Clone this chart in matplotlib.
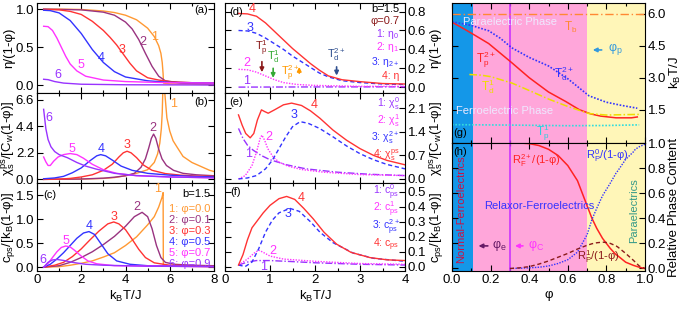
import matplotlib
matplotlib.use('Agg')
import matplotlib.pyplot as plt

plt.rcParams['font.family'] = ['Liberation Sans', 'DejaVu Sans']
plt.rcParams['mathtext.fontset'] = 'custom'
plt.rcParams['mathtext.rm'] = 'Liberation Sans'
plt.rcParams['mathtext.it'] = 'Liberation Sans'
plt.rcParams['mathtext.bf'] = 'Liberation Sans:bold'

# ---------------- left column: six concentrations ----------------
phi_list = [0.0, 0.1, 0.3, 0.5, 0.7, 0.9]
left_colors = ['#FF9933', '#993380', '#FF3333', '#3333FF', '#FF33FF', '#9933FF']

# (a) order parameter
a_T = [
    [0.3, 1, 2, 3, 3.5, 4, 4.5, 5, 5.3, 5.5, 5.6, 5.66, 5.7, 5.72, 6, 8],
    [0.3, 2, 3, 3.5, 4, 4.3, 4.6, 4.9, 5.2, 5.5, 5.8, 6.5, 8],
    [0.3, 1, 1.5, 2, 2.5, 3, 3.3, 3.6, 3.9, 4.2, 4.5, 5, 5.5, 6, 7, 8],
    [0.3, 0.6, 1, 1.5, 2, 2.5, 3, 3.5, 4, 5, 6, 8],
    [0.3, 0.5, 0.7, 0.9, 1.1, 1.3, 1.5, 1.8, 2.2, 3, 4, 6, 8],
    [0.3, 0.5, 0.8, 1.2, 2, 4, 8],
]
a_eta = [
    [1.0, 1.0, 0.995, 0.975, 0.955, 0.92, 0.86, 0.75, 0.64, 0.52, 0.42, 0.3, 0.15, 0.03, 0.02, 0.01],
    [1.0, 0.99, 0.96, 0.92, 0.83, 0.74, 0.6, 0.42, 0.25, 0.12, 0.06, 0.03, 0.02],
    [0.995, 0.99, 0.97, 0.93, 0.84, 0.72, 0.63, 0.53, 0.41, 0.29, 0.19, 0.1, 0.07, 0.05, 0.035, 0.03],
    [0.985, 0.98, 0.95, 0.85, 0.68, 0.47, 0.3, 0.18, 0.11, 0.06, 0.04, 0.03],
    [0.775, 0.77, 0.72, 0.62, 0.5, 0.38, 0.28, 0.19, 0.12, 0.07, 0.05, 0.035, 0.03],
    [0.08, 0.075, 0.05, 0.03, 0.015, 0.008, 0.005],
]

# (b) susceptibility
b_T = [
    [0.3, 2, 3, 3.5, 4, 4.5, 5, 5.3, 5.45, 5.55, 5.62, 5.66, 5.69, 5.76, 5.87, 6.0, 6.15, 6.32, 6.6, 7, 7.37, 7.8, 8],
    [0.3, 2, 3, 3.5, 4, 4.4, 4.7, 4.9, 5.05, 5.17, 5.27, 5.37, 5.5, 5.65, 5.85, 6.17, 6.6, 7.2, 8],
    [0.3, 1, 1.5, 2, 2.5, 3, 3.4, 3.7, 3.9, 4.07, 4.25, 4.5, 4.8, 5.2, 5.8, 6.5, 7.2, 8],
    [0.3, 0.8, 1.2, 1.6, 2.0, 2.4, 2.7, 2.88, 3.1, 3.4, 3.8, 4.3, 5, 6, 7, 8],
    [0.3, 0.4, 0.5, 0.6, 0.75, 0.95, 1.2, 1.5, 1.8, 2.1, 2.5, 3.0, 3.6, 4.5, 6, 8],
    [0.3, 0.35, 0.4, 0.5, 0.63, 0.8, 1.0, 1.38, 1.8, 2.2, 2.66, 3.5, 4.46, 6, 8],
]
b_chi = [
    [0.0, 0.02, 0.08, 0.15, 0.3, 0.5, 0.8, 1.4, 2.1, 3.0, 4.2, 5.5, 7.5, 7.5, 5.1, 4.0, 3.2, 2.7, 1.9, 1.4, 1.1, 0.75, 0.65],
    [0.0, 0.03, 0.1, 0.18, 0.3, 0.5, 1.0, 1.7, 2.6, 3.4, 3.75, 3.4, 2.5, 1.7, 1.15, 0.75, 0.5, 0.38, 0.3],
    [0.0, 0.02, 0.08, 0.2, 0.38, 0.75, 1.25, 1.85, 2.2, 2.33, 2.2, 1.8, 1.2, 0.75, 0.48, 0.35, 0.28, 0.24],
    [0.05, 0.12, 0.25, 0.55, 0.95, 1.55, 1.95, 2.05, 1.95, 1.6, 1.1, 0.75, 0.5, 0.35, 0.25, 0.2],
    [1.85, 1.45, 1.15, 1.15, 1.5, 1.85, 2.05, 2.14, 2.05, 1.75, 1.25, 0.8, 0.5, 0.3, 0.2, 0.13],
    [5.8, 5.0, 4.2, 3.3, 2.7, 2.3, 2.05, 1.79, 1.4, 1.1, 0.86, 0.5, 0.32, 0.2, 0.13],
]

# (c) specific heat
c_T = [
    [0.3, 1, 1.5, 2, 2.5, 3, 3.5, 4, 4.5, 5, 5.3, 5.5, 5.65, 5.7, 5.71, 6, 8],
    [0.3, 1, 1.5, 2, 2.5, 3, 3.5, 4, 4.4, 4.75, 5.0, 5.2, 5.4, 5.6, 5.8, 6.2, 7, 8],
    [0.3, 0.8, 1.2, 1.6, 2.0, 2.4, 2.8, 3.2, 3.47, 3.7, 4.0, 4.3, 4.6, 4.9, 5.3, 6, 8],
    [0.3, 0.6, 0.9, 1.2, 1.5, 1.8, 2.1, 2.35, 2.6, 2.9, 3.2, 3.6, 4.2, 5, 8],
    [0.3, 0.5, 0.7, 0.9, 1.1, 1.3, 1.5, 1.7, 2.0, 2.3, 2.7, 3.5, 8],
    [0.3, 0.5, 0.7, 0.9, 1.2, 1.6, 2.2, 3, 5, 8],
]
c_cp = [
    [0.0, 0.01, 0.04, 0.08, 0.13, 0.21, 0.3, 0.45, 0.63, 0.88, 1.05, 1.25, 1.45, 1.55, 0.03, 0.02, 0.01],
    [0.0, 0.03, 0.1, 0.2, 0.32, 0.47, 0.64, 0.85, 1.05, 1.14, 1.05, 0.8, 0.45, 0.2, 0.1, 0.06, 0.04, 0.03],
    [0.0, 0.04, 0.1, 0.22, 0.38, 0.57, 0.75, 0.9, 0.94, 0.9, 0.78, 0.58, 0.37, 0.2, 0.09, 0.04, 0.02],
    [0.0, 0.06, 0.17, 0.3, 0.45, 0.6, 0.71, 0.74, 0.68, 0.48, 0.28, 0.13, 0.06, 0.03, 0.015],
    [0.0, 0.08, 0.2, 0.32, 0.41, 0.44, 0.42, 0.35, 0.23, 0.13, 0.07, 0.03, 0.01],
    [0.0, 0.1, 0.15, 0.16, 0.14, 0.1, 0.06, 0.04, 0.02, 0.01],
]

# ---------------- middle column: phi = 0.7 decomposition ----------------
mid_colors = ['#9933FF', '#FF33FF', '#3333FF', '#FF3333']
mid_styles = [(0, (5, 1.5, 1, 1.5)), (0, (1, 1)), (0, (3, 2)), '-']

d_T = [
    [0.3, 1, 2, 4],
    [0.3, 0.5, 0.7, 0.9, 1.1, 1.3, 1.6, 2, 3, 4],
    [0.3, 0.5, 0.7, 0.9, 1.1, 1.3, 1.5, 1.7, 1.9, 2.1, 2.3, 2.6, 3, 3.5, 4],
    [0.3, 0.5, 0.7, 0.9, 1.1, 1.3, 1.5, 1.7, 1.9, 2.1, 2.3, 2.6, 3, 3.5, 4],
]
d_eta = [
    [0.002, 0.003, 0.004, 0.005],
    [0.19, 0.185, 0.16, 0.12, 0.08, 0.05, 0.03, 0.02, 0.01, 0.01],
    [0.6, 0.595, 0.57, 0.52, 0.46, 0.4, 0.33, 0.27, 0.21, 0.15, 0.11, 0.07, 0.05, 0.035, 0.03],
    [0.78, 0.775, 0.75, 0.68, 0.59, 0.5, 0.41, 0.33, 0.25, 0.18, 0.12, 0.08, 0.06, 0.04, 0.035],
]

e_T = [
    [0.3, 0.4, 0.5, 0.63, 0.8, 1.0, 1.37, 1.8, 2.5, 3.2, 4],
    [0.3, 0.45, 0.6, 0.7, 0.78, 0.82, 0.88, 0.95, 1.07, 1.2, 1.4, 1.7, 2.2, 3, 4],
    [0.3, 0.5, 0.7, 0.9, 1.05, 1.2, 1.35, 1.5, 1.67, 1.85, 2.1, 2.4, 2.7, 3.0, 3.3, 3.6, 4.0],
    [0.3, 0.38, 0.46, 0.56, 0.64, 0.72, 0.81, 0.88, 0.96, 1.1, 1.3, 1.48, 1.7, 1.9, 2.11, 2.4, 2.7, 3.0, 3.3, 3.6, 4.0],
]
e_chi = [
    [1.5, 1.2, 1.0, 0.85, 0.7, 0.57, 0.42, 0.3, 0.2, 0.14, 0.1],
    [0.0, 0.1, 0.4, 0.8, 1.2, 1.3, 1.15, 0.9, 0.65, 0.5, 0.38, 0.28, 0.2, 0.13, 0.1],
    [0.0, 0.03, 0.1, 0.3, 0.55, 0.9, 1.25, 1.55, 1.7, 1.65, 1.5, 1.25, 0.98, 0.75, 0.57, 0.43, 0.3],
    [1.9, 1.6, 1.35, 1.22, 1.35, 1.75, 2.05, 2.0, 1.95, 2.05, 2.2, 2.25, 2.18, 2.02, 1.8, 1.45, 1.15, 0.9, 0.7, 0.55, 0.42],
]

f_T = [
    [0.3, 0.5, 0.7, 1.0, 1.5, 2, 3, 4],
    [0.3, 0.5, 0.65, 0.75, 0.85, 1.0, 1.3, 2, 3, 4],
    [0.3, 0.45, 0.6, 0.75, 0.9, 1.05, 1.2, 1.44, 1.65, 1.9, 2.11, 2.4, 2.85, 3.3, 4],
    [0.3, 0.4, 0.5, 0.6, 0.7, 0.85, 1.0, 1.2, 1.37, 1.55, 1.75, 1.96, 2.2, 2.48, 2.8, 3.22, 3.6, 4.0],
]
f_cp = [
    [0.01, 0.03, 0.04, 0.04, 0.033, 0.025, 0.015, 0.01],
    [0.01, 0.05, 0.09, 0.11, 0.095, 0.07, 0.05, 0.035, 0.02, 0.015],
    [0.01, 0.0, 0.03, 0.12, 0.23, 0.31, 0.36, 0.39, 0.37, 0.3, 0.23, 0.16, 0.09, 0.055, 0.035],
    [0.01, 0.08, 0.18, 0.26, 0.3, 0.36, 0.41, 0.455, 0.47, 0.45, 0.39, 0.32, 0.23, 0.15, 0.095, 0.06, 0.045, 0.04],
]

# characteristic temperatures marked in (d)
mark_T = [0.82, 1.07, 1.65, 2.48]

# ---------------- right column: phase diagram ----------------
phi_e, phi_c, phi_p = 0.11, 0.3, 0.7
T_b = 6.0
g_phi_p2 = [0, 0.06, 0.12, 0.19, 0.25, 0.31, 0.4, 0.5, 0.59, 0.66, 0.72, 0.77, 0.85, 0.93, 0.96]
g_Tp2 = [5.6, 5.3, 4.98, 4.6, 4.15, 3.7, 3.0, 2.33, 1.88, 1.5, 1.3, 1.2, 1.12, 1.12, 1.16]
g_phi_d2 = [0, 0.1, 0.19, 0.25, 0.31, 0.4, 0.5, 0.6, 0.71, 0.8, 0.88, 0.96]
g_Td2 = [5.62, 5.45, 5.2, 4.85, 4.4, 3.95, 3.55, 2.95, 2.15, 1.85, 1.7, 1.57]
g_phi_d1 = [0.09, 0.15, 0.2, 0.31, 0.4, 0.5, 0.6, 0.71, 0.8, 0.9, 0.97]
g_Td1 = [3.15, 3.12, 3.05, 2.75, 2.4, 2.0, 1.65, 1.32, 1.25, 1.27, 1.28]
g_phi_p1 = [0, 0.3, 0.6, 0.8, 0.97]
g_Tp1 = [0.8, 0.78, 0.75, 0.76, 0.79]

h_phi = [0.3, 0.35, 0.4, 0.45, 0.5, 0.55, 0.6, 0.65, 0.7, 0.725, 0.75, 0.78, 0.8, 0.82, 0.85, 0.86, 0.9, 0.94, 0.95, 0.97, 1.0]
h_RF2 = [1.0, 1.0, 0.995, 0.98, 0.95, 0.9, 0.82, 0.7, 0.5, 0.4, 0.32, 0.24, 0.2, 0.16, 0.11, 0.1, 0.05, 0.025, 0.02, 0.01, 0.0]
h_RP0 = [0.0, 0.002, 0.005, 0.01, 0.02, 0.04, 0.07, 0.13, 0.27, 0.39, 0.48, 0.58, 0.63, 0.68, 0.76, 0.78, 0.87, 0.93, 0.95, 0.97, 0.99]
h_RP1 = [0.0, 0.005, 0.015, 0.035, 0.06, 0.09, 0.12, 0.155, 0.185, 0.197, 0.205, 0.21, 0.207, 0.2, 0.18, 0.17, 0.12, 0.065, 0.05, 0.02, 0.0]

W, H = 685, 315
fig = plt.figure(figsize=(W / 100, H / 100), dpi=100)

TICK = 9.5
LAB = 9.5
ANN = 8


def box(l, t, r, b):
    return fig.add_axes([l / W, 1 - b / H, (r - l) / W, (b - t) / H])


def style(ax, right=False):
    ax.tick_params(which='both', direction='in', top=True, bottom=True,
                   left=True, right=True, labelsize=TICK, width=0.8, pad=2)
    ax.tick_params(which='major', length=4)
    ax.tick_params(which='minor', length=2)
    if right:
        ax.tick_params(labelleft=False, labelright=True)
    for s in ax.spines.values():
        s.set_linewidth(0.8)


rows = [3, 93, 183, 271]

# ---- left column ----
ax_a = box(37, rows[0], 214, rows[1])
ax_b = box(37, rows[1], 214, rows[2])
ax_c = box(37, rows[2], 214, rows[3])
for ax, xs, ys in [(ax_a, a_T, a_eta), (ax_b, b_T, b_chi), (ax_c, c_T, c_cp)]:
    for i in range(6):
        ax.plot(xs[i], ys[i], color=left_colors[i], lw=1.0)
    ax.set_xlim(0, 8)
    ax.set_xticks([0, 2, 4, 6, 8])
    ax.set_xticks([1, 3, 5, 7], minor=True)
    style(ax)
ax_a.set_ylim(-0.1, 1.08)
ax_a.set_yticks([0.0, 0.5, 1.0])
ax_b.set_ylim(-0.3, 7.15)
ax_b.set_yticks([0.0, 2.2, 4.4, 6.6])
ax_c.set_ylim(-0.08, 1.75)
ax_c.set_yticks([0.0, 0.5, 1.0, 1.5])
ax_a.tick_params(labelbottom=False)
ax_b.tick_params(labelbottom=False)
ax_a.set_ylabel('η/(1-φ)', fontsize=LAB, labelpad=0)
ax_b.set_ylabel('χ$_s^{ps}$/[C$_w$(1-φ)]', fontsize=LAB, labelpad=-1)
ax_c.set_ylabel('c$_{ps}$/[k$_B$(1-φ)]', fontsize=LAB, labelpad=-1)
ax_c.set_xlabel('k$_B$T/J', fontsize=LAB, labelpad=2)
ax_a.text(0.93, 0.92, '(a)', transform=ax_a.transAxes, fontsize=ANN, ha='center', va='center')
ax_b.text(0.93, 0.9, '(b)', transform=ax_b.transAxes, fontsize=ANN, ha='center', va='center')
ax_c.text(0.07, 0.86, '(c)', transform=ax_c.transAxes, fontsize=ANN, ha='center', va='center')

lab_a = [(5.3, 0.64), (4.8, 0.57), (3.85, 0.47), (2.92, 0.36), (1.98, 0.27), (0.93, 0.13)]
lab_b = [(6.17, 6.25), (5.23, 4.25), (4.08, 2.86), (2.88, 2.51), (1.57, 2.51), (0.55, 5.08)]
lab_c = [(5.45, 1.62), (4.52, 1.25), (3.47, 1.05), (2.35, 0.85), (1.3, 0.54), (0.26, 0.145)]
for ax, labs in [(ax_a, lab_a), (ax_b, lab_b), (ax_c, lab_c)]:
    for i, (x, y) in enumerate(labs):
        ax.text(x, y, str(i + 1), color=left_colors[i], fontsize=9, ha='center', va='center')
ax_c.text(0.98, 0.88, 'b=1.5', transform=ax_c.transAxes, fontsize=ANN, ha='right', va='center')
leg_y = [0.7, 0.575, 0.455, 0.335, 0.21, 0.085]
for i in range(6):
    ax_c.text(0.98, leg_y[i], '%d: φ=%.1f' % (i + 1, phi_list[i]), transform=ax_c.transAxes,
              fontsize=ANN, ha='right', va='center', color=left_colors[i])

# ---- middle column ----
ax_d = box(225, rows[0], 405, rows[1])
ax_e = box(225, rows[1], 405, rows[2])
ax_f = box(225, rows[2], 405, rows[3])
for ax, xs, ys in [(ax_d, d_T, d_eta), (ax_e, e_T, e_chi), (ax_f, f_T, f_cp)]:
    for i in range(4):
        ax.plot(xs[i], ys[i], color=mid_colors[i], ls=mid_styles[i], lw=1.0)
    ax.set_xlim(0, 4)
    ax.set_xticks([0, 1, 2, 3, 4])
    ax.set_xticks([0.5, 1.5, 2.5, 3.5], minor=True)
    style(ax, right=True)
    ax.yaxis.set_label_position('right')
ax_d.set_ylim(-0.06, 0.89)
ax_d.set_yticks([0.0, 0.2, 0.4, 0.6, 0.8])
ax_e.set_ylim(-0.12, 2.55)
ax_e.set_yticks([0.0, 0.7, 1.4, 2.1])
ax_f.set_ylim(-0.03, 0.56)
ax_f.set_yticks([0.0, 0.1, 0.2, 0.3, 0.4, 0.5])
ax_d.tick_params(labelbottom=False)
ax_e.tick_params(labelbottom=False)
ax_d.set_ylabel('η/(1-φ)', fontsize=LAB, labelpad=2)
ax_e.set_ylabel('χ$_s^{ps}$/[C$_w$(1-φ)]', fontsize=LAB, labelpad=1)
ax_f.set_ylabel('c$_{ps}$/[k$_B$(1-φ)]', fontsize=LAB, labelpad=1)
ax_f.set_xlabel('k$_B$T/J', fontsize=LAB, labelpad=2)
ax_d.text(0.06, 0.9, '(d)', transform=ax_d.transAxes, fontsize=ANN, ha='center', va='center')
ax_e.text(0.06, 0.9, '(e)', transform=ax_e.transAxes, fontsize=ANN, ha='center', va='center')
ax_f.text(0.06, 0.9, '(f)', transform=ax_f.transAxes, fontsize=ANN, ha='center', va='center')

lab_d = [(0.48, 0.065), (0.48, 0.26), (0.56, 0.63), (0.6, 0.83)]
lab_e = [(0.52, 0.75), (0.98, 1.25), (1.53, 1.9), (1.98, 2.2)]
lab_f = [(0.85, -0.005), (1.06, 0.107), (1.4, 0.35), (1.7, 0.458)]
for ax, labs in [(ax_d, lab_d), (ax_e, lab_e), (ax_f, lab_f)]:
    for i, (x, y) in enumerate(labs):
        ax.text(x, y, str(i + 1), color=mid_colors[i], fontsize=9, ha='center', va='center')

ax_d.text(0.97, 0.93, 'b=1.5', transform=ax_d.transAxes, fontsize=ANN, ha='right', va='center')
ax_d.text(0.97, 0.8, 'φ=0.7', transform=ax_d.transAxes, fontsize=ANN, ha='right', va='center', color='#8B1A1A')
d_leg = ['1: η$_0$', '2: η$_1$', '3: η$_{2+}$', '4: η']
e_leg = ['1: χ$_s^0$', '2: χ$_s^1$', '3: χ$_s^{2+}$', '4: χ$_s^{ps}$']
f_leg = ['1: c$_{ps}^0$', '2: c$_{ps}^1$', '3: c$_{ps}^{2+}$', '4: c$_{ps}$']
for ax, leg, ys in [(ax_d, d_leg, [0.66, 0.51, 0.35, 0.19]),
                    (ax_e, e_leg, [0.88, 0.69, 0.5, 0.31]),
                    (ax_f, f_leg, [0.9, 0.7, 0.5, 0.3])]:
    for i in range(4):
        ax.text(0.97, ys[i], leg[i], transform=ax.transAxes, fontsize=7.5,
                ha='right', va='center', color=mid_colors[i])

# arrows at characteristic temperatures
arr = [
    ('T$_p^1$', '#8B1A1A', 0.30, 0.13, 0.31),
    ('T$_d^1$', '#33AA33', 0.23, 0.07, 0.24),
    ('T$_p^{2+}$', '#FF9900', 0.12, 0.245, None),
    ('T$_d^{2+}$', '#2F4F8F', 0.245, 0.095, 0.255),
]
for k, (txt, col, y0, y1, ty) in enumerate(arr):
    x = mark_T[k]
    ax_d.annotate('', xy=(x, y1), xytext=(x, y0),
                  arrowprops=dict(arrowstyle='-|>', color=col, lw=1.2, mutation_scale=6))
    if ty is None:
        ax_d.text(x - 0.2, 0.15, txt, color=col, fontsize=ANN, ha='center', va='center')
    else:
        ax_d.text(x, ty, txt, color=col, fontsize=ANN, ha='center', va='bottom')

# ---- right column ----
ax_g = box(452, 3, 645, 143)
ax_h = box(452, 143, 645, 271)
for ax in (ax_g, ax_h):
    ax.axvspan(0, phi_e, color='#1497E8', lw=0)
    ax.axvspan(phi_e, phi_p, color='#FFA6DA', lw=0)
    ax.axvspan(phi_p, 1.0, color='#FFF6B8', lw=0)
    ax.axvline(phi_c, color='#CC33FF', lw=1.2)
    ax.set_xlim(0, 1.0)
    ax.set_xticks([0, 0.2, 0.4, 0.6, 0.8, 1.0])
    ax.set_xticks([0.1, 0.3, 0.5, 0.7, 0.9], minor=True)
    style(ax, right=True)
    ax.yaxis.set_label_position('right')

ax_g.axhline(T_b, color='#FF8833', ls=(0, (6, 2, 1, 2)), lw=1.0)
ax_g.plot(g_phi_p2, g_Tp2, color='#FF2222', lw=1.1)
ax_g.plot(g_phi_d2, g_Td2, color='#3333FF', ls=(0, (1, 1)), lw=1.2)
ax_g.plot(g_phi_d1, g_Td1, color='#EEDD00', ls=(0, (5, 1.5, 1, 1.5)), lw=1.1)
ax_g.plot(g_phi_p1, g_Tp1, color='#33DDDD', ls=(0, (1, 1)), lw=1.2)
ax_g.set_ylim(-0.06, 6.5)
ax_g.set_yticks([1.5, 3.0, 4.5, 6.0])
ax_g.tick_params(labelbottom=False)
ax_g.set_ylabel('k$_B$T/J', fontsize=LAB, labelpad=1)

ax_g.text(0.3, 5.6, 'Paraelectric Phase', color='#EEE8FF', fontsize=ANN, ha='center', va='center')
ax_g.text(0.27, 1.45, 'Ferroelectric Phase', color='#EEE8FF', fontsize=ANN, ha='center', va='center')
ax_g.text(0.615, 5.35, 'T$_b$', color='#FF8833', fontsize=ANN + 0.5, ha='center', va='center')
ax_g.text(0.175, 3.85, 'T$_p^{2+}$', color='#FF2222', fontsize=ANN + 0.5, ha='center', va='center')
ax_g.text(0.58, 3.2, 'T$_d^{2+}$', color='#3333FF', fontsize=ANN + 0.5, ha='center', va='center')
ax_g.text(0.183, 2.6, 'T$_d^1$', color='#EEDD00', fontsize=ANN + 0.5, ha='center', va='center')
ax_g.text(0.468, 0.42, 'T$_p^1$', color='#33CCDD', fontsize=ANN + 0.5, ha='center', va='center')
ax_g.text(0.04, 0.4, '(g)', fontsize=ANN, ha='center', va='center')
ax_g.annotate('', xy=(phi_p + 0.015, 4.3), xytext=(0.79, 4.3),
              arrowprops=dict(arrowstyle='-|>', color='#3399DD', lw=1.2, mutation_scale=6))
ax_g.text(0.81, 4.3, 'φ$_p$', color='#3399DD', fontsize=9, ha='left', va='center')

ax_h.plot(h_phi, h_RF2, color='#FF2222', lw=1.1)
ax_h.plot(h_phi, h_RP0, color='#3333FF', ls=(0, (1, 1)), lw=1.0)
ax_h.plot(h_phi, h_RP1, color='#8B1A1A', ls=(0, (3, 2)), lw=1.0)
ax_h.set_ylim(-0.02, 1.0)
ax_h.set_yticks([0.0, 0.2, 0.4, 0.6, 0.8, 1.0])
ax_h.set_ylabel('Relative Phase Content', fontsize=LAB, labelpad=1)
ax_h.set_xlabel('φ', fontsize=LAB, labelpad=2)
ax_h.text(0.04, 0.93, '(h)', fontsize=ANN, ha='center', va='center')
ax_h.text(0.045, 0.47, 'Normal-Ferroelectrics', rotation=90, color='#CC1144', fontsize=ANN,
          ha='center', va='center')
ax_h.text(0.166, 0.5, 'Relaxor-Ferroelectrics', color='#3333FF', fontsize=ANN, ha='left', va='center')
ax_h.text(0.943, 0.46, 'Paraelectrics', rotation=90, color='#339988', fontsize=ANN,
          ha='center', va='center')
ax_h.text(0.44, 0.86, 'R$_F^{2+}$/(1-φ)', color='#FF2222', fontsize=ANN, ha='center', va='center')
ax_h.text(0.805, 0.9, 'R$_P^0$/(1-φ)', color='#3333FF', fontsize=ANN, ha='center', va='center')
ax_h.text(0.76, 0.094, 'R$_P^1$/(1-φ)', color='#8B1A1A', fontsize=ANN, ha='center', va='center')
ax_h.annotate('', xy=(phi_e + 0.013, 0.18), xytext=(0.2, 0.18),
              arrowprops=dict(arrowstyle='-|>', color='#661A66', lw=1.2, mutation_scale=6))
ax_h.text(0.245, 0.18, 'φ$_e$', color='#661A66', fontsize=9, ha='center', va='center')
ax_h.annotate('', xy=(phi_c + 0.012, 0.18), xytext=(0.382, 0.18),
              arrowprops=dict(arrowstyle='-|>', color='#FF33FF', lw=1.2, mutation_scale=6))
ax_h.text(0.434, 0.18, 'φ$_C$', color='#FF33FF', fontsize=9, ha='center', va='center')

fig.savefig('out.png', dpi=100)
